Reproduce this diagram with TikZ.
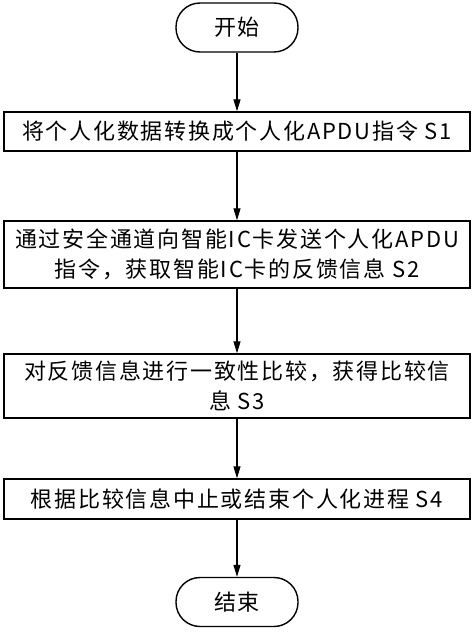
\documentclass[tikz,border=0pt]{standalone}
\usepackage{fontspec}
\newfontfamily\cjk[LetterSpace=8]{Noto Sans CJK SC}
\usetikzlibrary{arrows.meta}
\begin{document}
\begin{tikzpicture}[x=1pt,y=-1pt,
    termbox/.style={draw,line width=1.4pt,rounded corners=24pt,minimum width=122pt,minimum height=49pt,inner sep=0pt},
    stepbox/.style={draw,line width=1.4pt,minimum width=466pt,inner sep=0pt,align=center},
    flow/.style={-{Triangle[width=7pt,length=12pt]},line width=1.2pt},
    font=\cjk\fontsize{22pt}{30pt}\selectfont]
    % Rahmen
    \useasboundingbox (0,0) rectangle (474,632);
    \fill[white] (0,0) rectangle (474,632);

    % Anfang und Ende
    \node[termbox] (start) at (237,27.5) {开始};
    \node[termbox] (stop) at (237,602) {结束};

    % Schritte S1 bis S4
    \node[stepbox,minimum height=39pt] (s1) at (237,131.5) {将个人化数据转换成个人化APDU指令 S1};
    \node[stepbox,minimum height=67pt] (s2) at (237,254.5) {通过安全通道向智能IC卡发送个人化APDU\\指令，获取智能IC卡的反馈信息 S2};
    \node[stepbox,minimum height=64pt] (s3) at (237,386) {对反馈信息进行一致性比较，获得比较信\\息 S3};
    \node[stepbox,minimum height=40pt] (s4) at (237,499) {根据比较信息中止或结束个人化进程 S4};

    % Pfeile
    \draw[flow] (start) -- (s1);
    \draw[flow] (s1) -- (s2);
    \draw[flow] (s2) -- (s3);
    \draw[flow] (s3) -- (s4);
    \draw[flow] (s4) -- (stop);
\end{tikzpicture}
\end{document}
